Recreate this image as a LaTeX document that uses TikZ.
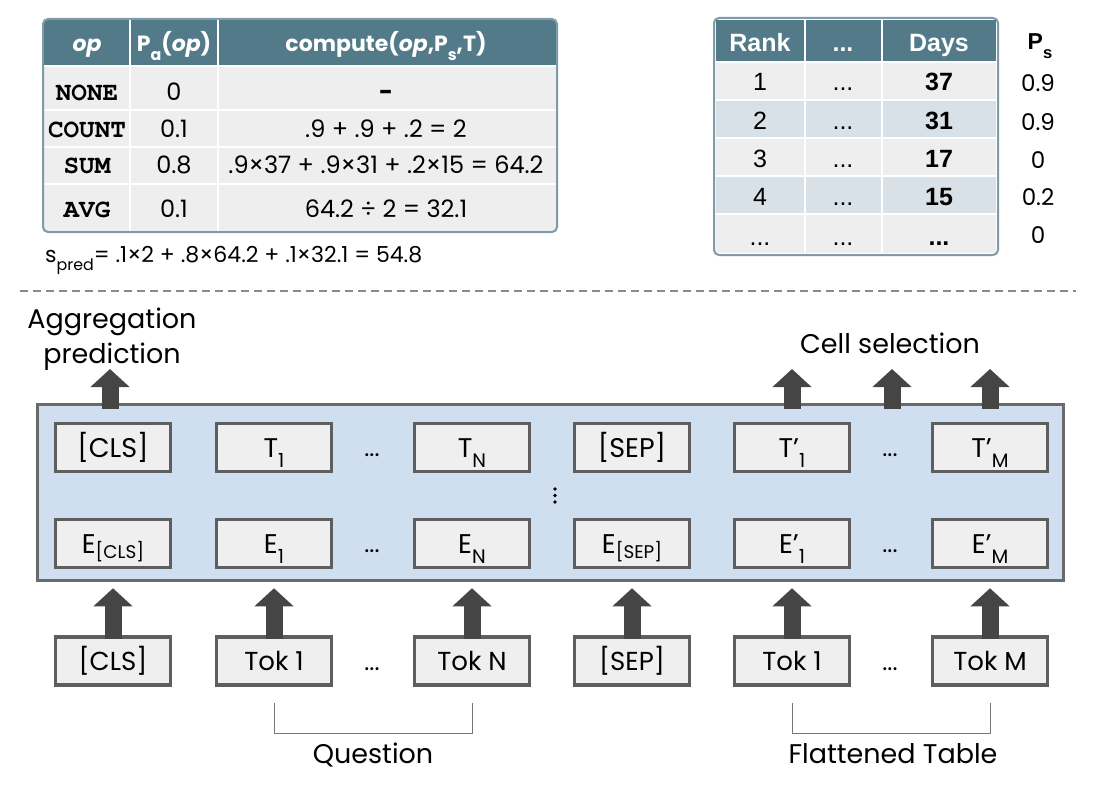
\documentclass[tikz,border=0pt]{standalone}
\usepackage{fontspec}
\setmainfont{Poppins}
\newfontfamily\arialf{Liberation Sans}
\newfontfamily\monof{TeX Gyre Cursor}
\usetikzlibrary{arrows.meta}
\definecolor{hdr}{HTML}{537A88}
\definecolor{rowg}{HTML}{EEEEEE}
\definecolor{rowb}{HTML}{D7E1E7}
\definecolor{tframe}{HTML}{7F9BA8}
\definecolor{encfill}{HTML}{CFDFF0}
\definecolor{encline}{HTML}{6A6A6A}
\definecolor{boxfill}{HTML}{EFEFEF}
\definecolor{boxline}{HTML}{5E5E5E}
\definecolor{arr}{HTML}{454545}
\definecolor{brkc}{HTML}{777777}
\definecolor{dashc}{HTML}{8A8A8A}
\newcommand\mysub[1]{\raisebox{-0.38em}{\scalebox{0.72}{#1}}}
\newcommand\mysubb[1]{\raisebox{-0.22em}{\scalebox{0.68}{#1}}}
\begin{document}
\begin{tikzpicture}[x=1pt,y=-1pt,
 tv/.style={font=\fontsize{24}{28}\selectfont, anchor=base, inner sep=0pt},
 pv/.style={font=\fontsize{23}{27}\selectfont, anchor=base, inner sep=0pt},
 th/.style={font=\fontsize{22}{26}\selectfont\bfseries, text=white, anchor=base, inner sep=0pt},
 mono/.style={font=\fontsize{26}{28}\selectfont\monof\bfseries, anchor=base, inner sep=0pt},
 ar/.style={font=\fontsize{25}{28}\selectfont\arialf, anchor=base, inner sep=0pt},
 arb/.style={font=\fontsize{25}{28}\selectfont\arialf\bfseries, anchor=base, inner sep=0pt},
 arh/.style={font=\fontsize{25}{28}\selectfont\arialf\bfseries, text=white, anchor=base, inner sep=0pt},
 lbl/.style={font=\fontsize{27}{35}\selectfont, align=center, inner sep=0pt},
 tok/.style={draw=boxline, fill=boxfill, line width=3.5pt, minimum width=115pt, minimum height=48pt, inner sep=0pt, font=\fontsize{27}{32}\selectfont, text height=20pt, text depth=1pt},
 ell/.style={font=\fontsize{24}{28}\selectfont, anchor=base, inner sep=0pt},
 bigarrow/.style={draw=arr, line width=17pt, -{Triangle[width=38pt,length=18pt]}},
 brk/.style={draw=brkc, line width=1pt},
]
\fill[white] (0,0) rectangle (1096,800);
\useasboundingbox (0,0) rectangle (1096,800);

% ---------- Table 1 ----------
\fill[hdr] (44,20) rectangle (556,66);
\fill[rowg] (44,66) rectangle (556,231);
\draw[white, line width=2pt] (130,20) -- (130,231) (218,20) -- (218,231);
\draw[white, line width=2pt] (44,66) -- (556,66) (44,110) -- (556,110) (44,147) -- (556,147) (44,184) -- (556,184);
\draw[tframe, line width=2pt, rounded corners=5pt] (43,19) rectangle (557,232);

\node[th] (h1) at (87,52) {\itshape op};
\node[th] (h2) at (174,52) {P\mysub{a}(\textit{op})};
\node[th] (h3) at (386,52) {compute(\textit{op},P\mysub{s},T)};

\node[mono] (o1) at (87,100) {NONE};
\node[mono] (o2) at (87,137) {COUNT};
\node[mono] (o3) at (87,173) {SUM};
\node[mono] (o4) at (87,217) {AVG};
\node[tv] (p1) at (174,100) {0};
\node[tv] (p2) at (174,137) {0.1};
\node[tv] (p3) at (174,173) {0.8};
\node[tv] (p4) at (174,217) {0.1};
\node[tv] (c1) at (386,100) {\bfseries -};
\node[tv] (c2) at (386,137) {.9 + .9 + .2 = 2};
\node[tv] (c3) at (386,173) {.9×37 + .9×31 + .2×15 = 64.2};
\node[tv] (c4) at (386,217) {64.2 ÷ 2 = 32.1};

\node[font=\fontsize{22}{26}\selectfont, anchor=base west, inner sep=0pt] (spred) at (45,262) {s\mysub{pred}= .1×2 + .8×64.2 + .1×32.1 = 54.8};

% ---------- Table 2 ----------
\fill[hdr] (716,20) rectangle (996,62);
\fill[rowg] (716,62) rectangle (996,100);
\fill[rowb] (716,100) rectangle (996,138);
\fill[rowg] (716,138) rectangle (996,176);
\fill[rowb] (716,176) rectangle (996,214);
\fill[rowg] (716,214) rectangle (996,253);
\draw[white, line width=2pt] (805,20) -- (805,253) (882,20) -- (882,253);
\draw[white, line width=2pt] (716,62) -- (996,62) (716,100) -- (996,100) (716,138) -- (996,138) (716,176) -- (996,176) (716,214) -- (996,214);
\draw[tframe, line width=2pt, rounded corners=5pt] (714,18) rectangle (998,255);

\node[arh] (r0a) at (760,52) {Rank};
\node[arh] (r0b) at (843,52) {...};
\node[arh] (r0c) at (939,52) {Days};
\node[ar] (r1a) at (760,91) {1};
\node[ar] (r1b) at (843,91) {...};
\node[arb] (r1c) at (939,91) {37};
\node[ar] (r2a) at (760,129) {2};
\node[ar] (r2b) at (843,129) {...};
\node[arb] (r2c) at (939,129) {31};
\node[ar] (r3a) at (760,167) {3};
\node[ar] (r3b) at (843,167) {...};
\node[arb] (r3c) at (939,167) {17};
\node[ar] (r4a) at (760,205) {4};
\node[ar] (r4b) at (843,205) {...};
\node[arb] (r4c) at (939,205) {15};
\node[ar] (r5a) at (760,245) {...};
\node[ar] (r5b) at (843,245) {...};
\node[arb] (r5c) at (939,245) {...};

\node[font=\fontsize{23}{27}\selectfont\arialf\bfseries, anchor=base, inner sep=0pt] (ps0) at (1040,50) {P\mysub{s}};
\node[pv] (ps1) at (1038,92) {0.9};
\node[pv] (ps2) at (1038,130) {0.9};
\node[pv] (ps3) at (1038,168) {0};
\node[pv] (ps4) at (1038,205) {0.2};
\node[pv] (ps5) at (1038,243) {0};

% ---------- separator ----------
\draw[dashc, line width=1.5pt, dash pattern=on 8pt off 5pt] (20,291) -- (1076,291);

% ---------- encoder ----------
\node[draw=encline, fill=encfill, line width=3pt, minimum width=1026pt, minimum height=176pt, inner sep=0pt] (enc) at (550.5,492.5) {};

\node[tok] (t0) at (113,447.5) {[CLS]};
\node[tok] (t1) at (274,447.5) {T\mysub{1}};
\node[tok] (tn) at (472,447.5) {T\mysub{N}};
\node[tok] (ts) at (632,447.5) {[SEP]};
\node[tok] (tp1) at (792,447.5) {T’\mysub{1}};
\node[tok] (tpm) at (990,447.5) {T’\mysub{M}};

\node[tok] (e0) at (113,543.5) {E\mysubb{[CLS]}};
\node[tok] (e1) at (274,543.5) {E\mysub{1}};
\node[tok] (en) at (472,543.5) {E\mysub{N}};
\node[tok] (es) at (632,543.5) {E\mysubb{[SEP]}};
\node[tok] (ep1) at (792,543.5) {E’\mysub{1}};
\node[tok] (epm) at (990,543.5) {E’\mysub{M}};

\node[ell] (d1) at (372,456) {...};
\node[ell] (d2) at (890,456) {...};
\node[ell] (d3) at (372,552) {...};
\node[ell] (d4) at (890,552) {...};
\fill[black] (555,489) circle (1.8) (555,495.5) circle (1.8) (555,502) circle (1.8);

% ---------- tokens ----------
\node[tok, font=\fontsize{26}{30}\selectfont] (k0) at (113,661) {[CLS]};
\node[tok, font=\fontsize{26}{30}\selectfont] (k1) at (274,661) {Tok 1};
\node[tok, font=\fontsize{26}{30}\selectfont] (kn) at (472,661) {Tok N};
\node[tok, font=\fontsize{26}{30}\selectfont] (ks) at (632,661) {[SEP]};
\node[tok, font=\fontsize{26}{30}\selectfont] (kp1) at (792,661) {Tok 1};
\node[tok, font=\fontsize{26}{30}\selectfont] (kpm) at (990,661) {Tok M};
\node[ell] (d5) at (372,670) {...};
\node[ell] (d6) at (890,670) {...};

% ---------- labels ----------
\node[lbl] (agg) at (112,339) {Aggregation\\prediction};
\node[lbl, anchor=base] (cell) at (890,353) {Cell selection};
\node[lbl, anchor=base] (q) at (373,763) {Question};
\node[lbl, anchor=base] (ft) at (893,763) {Flattened Table};

% ---------- arrows ----------
\draw[bigarrow] ([xshift=-3pt]t0.north |- enc.north) ++(0,6) -- ++(0,-40);
\draw[bigarrow] (tp1.north |- enc.north) ++(0,6) -- ++(0,-40);
\draw[bigarrow] (enc.north -| cell.center) ++(2,6) -- ++(0,-40);
\draw[bigarrow] (tpm.north |- enc.north) ++(0,6) -- ++(0,-40);

\foreach \k in {k0,k1,kn,ks,kp1,kpm}
  \draw[bigarrow] (\k.north) ++(0,4) -- ++(0,-51);

% ---------- brackets ----------
\draw[brk] (k1.south |- 0,703) -- (k1.south |- 0,733) -| (kn.south |- 0,703);
\draw[brk] (kp1.south |- 0,703) -- (kp1.south |- 0,733) -| (kpm.south |- 0,703);
\end{tikzpicture}
\end{document}
